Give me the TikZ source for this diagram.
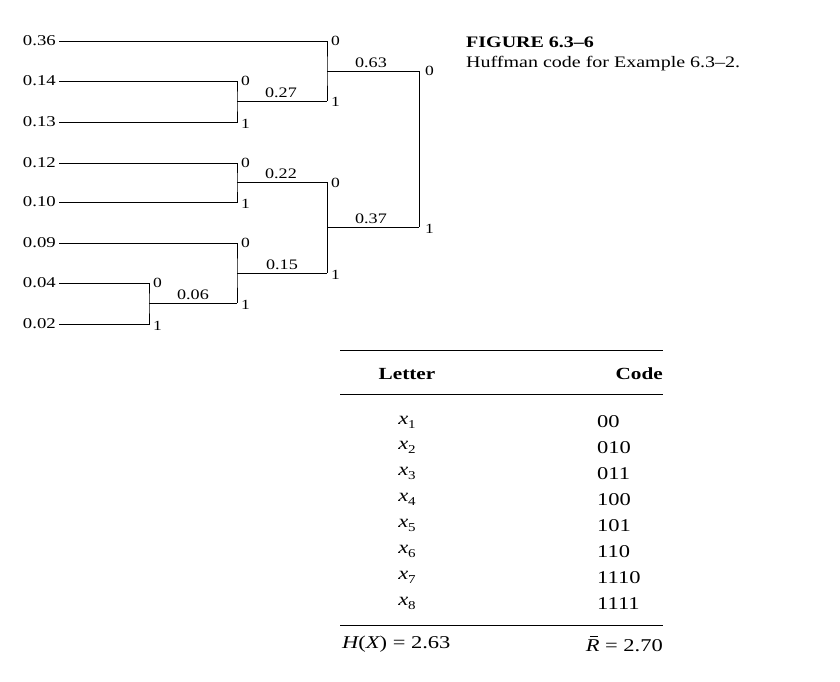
\documentclass[tikz,border=0pt]{standalone}
\usepackage{fontspec}
\setmainfont{Liberation Serif}[FakeStretch=1.25]
\newcommand{\xs}[1]{{\itshape x}\raisebox{-4pt}{\fontsize{12}{12}\selectfont #1}}
\newcommand{\rbar}{\makebox[0pt][l]{\hspace{4pt}\raisebox{14.5pt}{\rule{8pt}{0.7pt}}}{\itshape R}}
\begin{document}
\begin{tikzpicture}[x=1pt,y=-1pt,
  ln/.style={line width=0.8pt},
  leaf/.style={anchor=east,font=\fontsize{15}{15}\selectfont,inner sep=3pt},
  bit/.style={anchor=west,font=\fontsize{14}{14}\selectfont,inner sep=1pt},
  val/.style={anchor=south,font=\fontsize{14.5}{14.5}\selectfont,inner sep=1pt},
  tb/.style={font=\fontsize{18}{18}\selectfont,inner sep=0pt}]
\useasboundingbox (0,0) rectangle (840,681);
\foreach \n/\v/\y in {a/0.36/41,b/0.14/81,c/0.13/122,d/0.12/163,e/0.10/202,f/0.09/243,g/0.04/283,h/0.02/324}
  \node[leaf] (\n) at (59,\y) {\v};
\coordinate (j06) at (149,303);
\coordinate (j15) at (237,273);
\coordinate (j22) at (237,182);
\coordinate (j27) at (237,101);
\coordinate (j37) at (327,227);
\coordinate (j63) at (327,71);
\draw[ln] (g.east) -| (149,303) |- (h.east);
\draw[ln] (j06) -- (j06 -| j15);
\draw[ln] (f.east) -| (j15) |- (j06 -| j15);
\draw[ln] (j15) -- (j15 -| j37);
\draw[ln] (d.east) -| (j22) |- (e.east);
\draw[ln] (j22) -- (j22 -| j37);
\draw[ln] (b.east) -| (j27) |- (c.east);
\draw[ln] (j27) -- (j27 -| j63);
\draw[ln] (j22 -| j37) -- (j15 -| j37);
\draw[ln] (j37) -- (419,227);
\draw[ln] (a.east) -| (j63) |- (j27 -| j63);
\draw[ln] (j63) -- (419,71) -- (419,227);
\node[bit] (b1) at (152,283) {0}; \node[bit] (b2) at (152,326) {1};
\node[bit] (b3) at (240,243) {0}; \node[bit] (b4) at (240,305) {1};
\node[bit] (b5) at (240,163) {0}; \node[bit] (b6) at (240,204) {1};
\node[bit] (b7) at (240,81) {0}; \node[bit] (b8) at (240,124) {1};
\node[bit] (b9) at (330,183) {0}; \node[bit] (b10) at (330,275) {1};
\node[bit] (b11) at (330,41) {0}; \node[bit] (b12) at (330,102) {1};
\node[bit] (b13) at (424,71) {0}; \node[bit] (b14) at (424,229) {1};
\node[val] (v06) at (193,301) {0.06};
\node[val] (v15) at (282,271) {0.15};
\node[val] (v22) at (281,180) {0.22};
\node[val] (v27) at (281,99) {0.27};
\node[val] (v37) at (371,225) {0.37};
\node[val] (v63) at (371,69) {0.63};
\node[anchor=west,font=\fontsize{16}{16}\selectfont\bfseries,inner sep=0pt] (cap1) at (466,42) {FIGURE 6.3–6};
\node[anchor=west,font=\fontsize{16}{16}\selectfont,inner sep=0pt] (cap2) at (466,64) {Huffman code for Example 6.3–2.};
\draw[line width=0.8pt] (340,350) -- (663,350);
\draw[line width=0.6pt] (340,394) -- (663,394);
\draw[line width=0.8pt] (340,625) -- (663,625);
\node[tb,font=\fontsize{17}{17}\selectfont\bfseries] (hl) at (407,374) {Letter};
\node[tb,font=\fontsize{17}{17}\selectfont\bfseries,anchor=east] (hc) at (663,374) {Code};
\foreach \i/\c in {1/00,2/010,3/011,4/100,5/101,6/110,7/1110,8/1111}{
  \node[tb] (l\i) at (407,{396+25.9*\i}) {\xs{\i}};
  \node[tb,anchor=west] (c\i) at (597,{396+25.9*\i}) {\c};
}
\node[tb,anchor=west] (hx) at (342,644) {{\itshape H}({\itshape X}) = 2.63};
\node[tb,anchor=east] (rb) at (663,644) {\rbar{} = 2.70};
\end{tikzpicture}
\end{document}
